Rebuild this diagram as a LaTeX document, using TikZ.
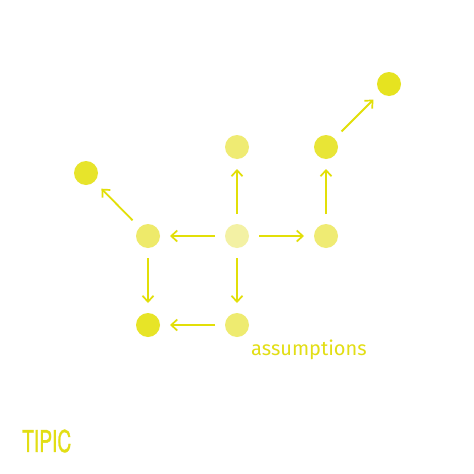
\documentclass[tikz,border=0pt]{standalone}
\usepackage{fontspec}
\setmainfont{Fira Sans}
\newfontfamily\tipicfont[FakeBold=1.2]{TeX Gyre Heros}
\usetikzlibrary{arrows.meta}
\definecolor{strongY}{HTML}{E6E320}
\definecolor{midY}{HTML}{EEEA6A}
\definecolor{paleY}{HTML}{F3F1A4}
\definecolor{arrowY}{HTML}{E2DF08}
\definecolor{textY}{HTML}{E2DE14}
\begin{document}
\begin{tikzpicture}[x=1pt,y=-1pt,
  dot/.style={circle,minimum size=24pt,inner sep=0pt,outer sep=0pt},
  conn/.style={draw=arrowY,line width=1.8pt,-{Straight Barb[length=6pt,width=11pt,line width=1.7pt]},shorten >=10pt,shorten <=10pt}]
\useasboundingbox (0,0) rectangle (474,474);
\fill[white] (0,0) rectangle (474,474);
\node[dot,fill=paleY] (C) at (237,236) {};
\node[dot,fill=midY] (L) at (148,236) {};
\node[dot,fill=midY!85!paleY] (R) at (326,236) {};
\node[dot,fill=midY!85!paleY] (T) at (237,147) {};
\node[dot,fill=strongY!70!midY] (TR) at (326,147) {};
\node[dot,fill=strongY] (FTR) at (389,84) {};
\node[dot,fill=strongY!85!midY] (FL) at (86,173) {};
\node[dot,fill=strongY!90!midY] (BL) at (148,325) {};
\node[dot,fill=midY!90!paleY] (BC) at (237,325) {};
\draw[conn] (C) -- (L);
\draw[conn] (C) -- (R);
\draw[conn] (C) -- (T);
\draw[conn] (C) -- (BC);
\draw[conn] (L) -- (FL);
\draw[conn] (L) -- (BL);
\draw[conn] (BC) -- (BL);
\draw[conn] (R) -- (TR);
\draw[conn] (TR) -- (FTR);
\node[anchor=west,text=textY,font=\fontsize{20}{20}\selectfont,inner sep=0pt] (lab) at (251,350) {assumptions};
\node[anchor=west,text=textY,inner sep=0pt] (tipic) at (22,441) {\tipicfont\fontsize{30}{30}\selectfont\scalebox{0.64}[1]{TIPIC}};
\end{tikzpicture}
\end{document}
